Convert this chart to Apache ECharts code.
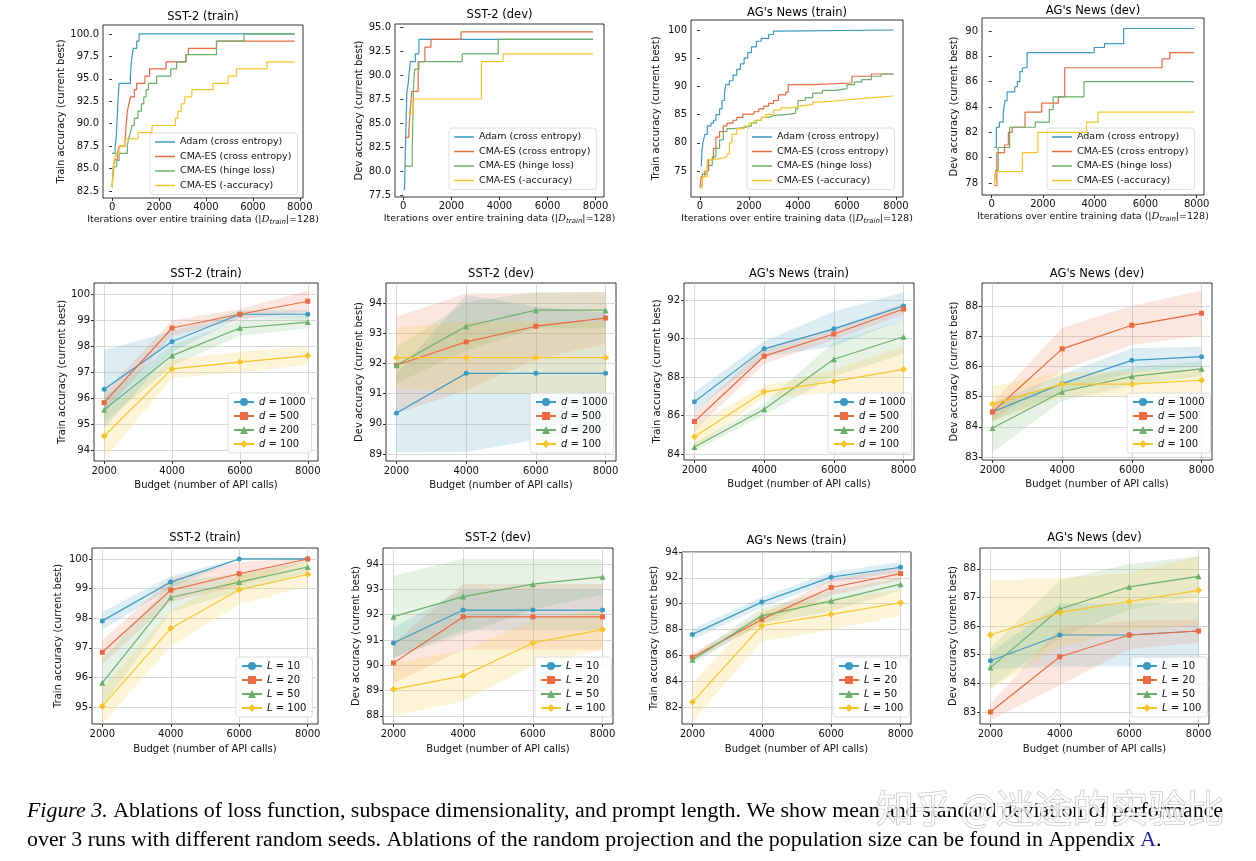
<!DOCTYPE html>
<html><head><meta charset="utf-8">
<script src="https://cdn.jsdelivr.net/npm/echarts@6/dist/echarts.min.js"></script>
<style>html,body{margin:0;padding:0;background:#fff}#c{width:1256px;height:861px}</style>
</head><body><div id="c"></div>
<script>
// ---------------- DATA ----------------
const lossNames = ['Adam (cross entropy)', 'CMA-ES (cross entropy)', 'CMA-ES (hinge loss)', 'CMA-ES (-accuracy)'];
const dNames = ['d = 1000', 'd = 500', 'd = 200', 'd = 100'];
const lNames = ['L = 10', 'L = 20', 'L = 50', 'L = 100'];
const budgets = [2000, 4000, 6000, 8000];

// Row 1: current-best curves [iteration, accuracy]
const sst2TrainAdam = [[0,86.7],[130,87.5],[170,88.3],[200,89.8],[230,91.4],[260,93.0],[300,94.5],[780,95.3],[820,96.9],[900,98.4],[1050,99.2],[1150,100],[7780,100]];
const sst2TrainCE = [[0,83.0],[50,85.2],[130,86.0],[220,86.7],[300,87.5],[560,88.3],[600,89.8],[650,91.4],[720,92.2],[780,93.0],[950,93.8],[1050,94.5],[1400,95.3],[1600,96.1],[2300,96.9],[3150,97.7],[3250,98.4],[4450,99.2],[7780,99.2]];
const sst2TrainHinge = [[0,83.0],[80,85.2],[200,85.9],[300,86.7],[650,87.5],[700,88.3],[780,89.0],[850,89.8],[950,90.6],[1100,91.4],[1250,92.2],[1350,93.0],[1450,93.8],[1550,94.5],[1900,95.3],[2500,96.1],[2750,96.9],[3150,97.7],[4450,99.2],[5620,100],[7780,100]];
const sst2TrainAcc = [[0,82.8],[50,85.2],[100,86.0],[150,86.7],[300,87.5],[560,88.3],[1100,89.0],[1700,89.8],[2700,90.6],[2800,91.4],[2950,92.2],[3100,93.0],[3400,93.8],[4300,94.5],[4950,95.3],[5300,96.1],[6600,96.9],[7780,96.9]];

const sst2DevAdam = [[50,78.0],[100,83.5],[150,88.3],[200,89.0],[250,90.4],[300,91.4],[500,92.2],[650,93.7],[7890,93.7]];
const sst2DevCE = [[100,83.5],[230,84.3],[280,86.0],[350,88.3],[620,91.4],[900,92.9],[1150,93.7],[2400,94.5],[7890,94.5]];
const sst2DevHinge = [[50,80.5],[370,82.0],[420,88.3],[470,90.6],[650,91.4],[2450,92.2],[3950,93.7],[7890,93.7]];
const sst2DevAcc = [[200,86.0],[400,87.5],[3250,91.4],[4150,92.2],[7890,92.2]];

const agTrainAdam = [[50,75.8],[80,78.5],[120,80],[200,81.5],[300,83],[450,83.5],[550,84],[650,85],[800,86],[900,87.5],[1000,89],[1050,90.3],[1200,91],[1350,92],[1500,93],[1650,94],[1800,95],[1950,96],[2100,97],[2300,98],[2500,98.5],[2800,99.2],[3000,99.8],[3250,100],[7900,100]];
const agTrainCE = [[0,72],[50,74],[200,75],[350,77],[550,79],[650,81],[800,82],[950,83],[1100,83.5],[1350,84],[1500,84.5],[1750,85.1],[2200,85.5],[2400,86],[2600,86.5],[2800,87],[3000,87.5],[3200,88.5],[3500,89],[3600,90.3],[4600,90.6],[6200,91.8],[7000,92.2],[7900,92.2]];
const agTrainHinge = [[0,72.5],[100,74.5],[300,76],[500,77.5],[650,79],[800,80.5],[950,82],[1100,82.5],[1400,82.7],[1800,83],[2100,83.5],[2300,84],[2500,84.5],[2800,84.8],[3000,85],[3500,85.2],[3900,86],[4000,87.5],[4300,88],[4600,88.8],[5000,89.3],[5500,89.6],[6000,90.3],[6300,90.8],[6600,91.2],[7000,91.8],[7400,92.2],[7900,92.2]];
const agTrainAcc = [[0,72],[100,74],[300,77],[500,77.2],[800,77.5],[1100,78],[1200,80],[1300,81.5],[1500,82.5],[1800,83],[2000,83.5],[2200,84],[2500,84.5],[2700,85],[3000,85.8],[3300,86.2],[3700,86.5],[4100,86.8],[4600,87.2],[5000,87.5],[5700,87.8],[6500,88.1],[7300,88.3],[7900,88.3]];

const agDevAdam = [[100,80.8],[180,82.4],[300,82.8],[450,83.6],[520,84.5],[600,85.2],[900,85.6],[1000,86.0],[1100,86.8],[1200,87.1],[1380,88.3],[4000,88.7],[4400,89.0],[5150,90.2],[7900,90.2]];
const agDevCE = [[100,77.8],[200,80.4],[500,81.0],[650,82.0],[800,82.4],[1300,83.6],[1950,84.3],[2600,84.8],[2850,87.1],[6650,87.8],[6950,88.3],[7900,88.3]];
const agDevHinge = [[100,78.0],[150,79.0],[250,80.8],[700,82.4],[1700,82.8],[2250,83.8],[2400,84.8],[3600,86.0],[7900,86.0]];
const agDevAcc = [[100,77.8],[150,78.9],[1200,80.4],[1800,82.0],[3700,82.8],[4150,83.6],[7900,83.6]];

// Row 2: subspace dimensionality (rows: d=1000, 500, 200, 100), mean and std per budget
const sst2TrainDMean = [[96.34,98.17,99.22,99.22],[95.82,98.69,99.22,99.72],[95.55,97.63,98.69,98.92],[94.54,97.12,97.38,97.63]];
const sst2TrainDStd  = [[1.5,0.4,0.15,0.15],[0.4,0.3,0.2,0.4],[0.5,0.4,0.3,0.25],[0.9,0.35,0.4,0.35]];
const sst2DevDMean = [[90.36,91.67,91.67,91.67],[91.94,92.71,93.23,93.5],[91.94,93.23,93.76,93.76],[92.19,92.19,92.19,92.19]];
const sst2DevDStd  = [[1.3,2.6,2.2,2.0],[1.6,1.6,1.1,0.85],[0.6,0.8,0.6,0.6],[1.0,1.2,1.2,1.2]];
const agTrainDMean = [[86.71,89.46,90.5,91.69],[85.69,89.08,90.23,91.53],[84.37,86.33,88.92,90.09],[84.9,87.23,87.77,88.4]];
const agTrainDStd  = [[0.5,0.4,0.9,0.7],[0.5,0.4,0.3,0.3],[0.2,0.3,0.9,0.9],[0.6,0.3,0.6,1.2]];
const agDevDMean = [[84.49,85.43,86.2,86.32],[84.49,86.58,87.36,87.76],[83.96,85.16,85.67,85.92],[84.75,85.41,85.41,85.54]];
const agDevDStd  = [[0.3,0.3,0.4,0.33],[0.3,0.7,0.65,0.75],[0.8,0.3,0.3,0.25],[0.6,0.4,0.4,0.4]];

// Row 3: prompt length (rows: L=10, 20, 50, 100)
const sst2TrainLMean = [[97.91,99.22,100,100],[96.85,98.95,99.5,100],[95.82,98.7,99.22,99.73],[95.03,97.66,98.96,99.48]];
const sst2TrainLStd  = [[0.3,0.2,0.02,0.02],[0.4,0.4,0.4,0.05],[0.8,0.5,0.3,0.2],[0.6,0.6,0.5,0.4]];
const sst2DevLMean = [[90.88,92.18,92.18,92.18],[90.09,91.91,91.91,91.91],[91.92,92.71,93.2,93.49],[89.05,89.58,90.88,91.41]];
const sst2DevLStd  = [[0.6,0.8,0.8,0.8],[0.8,1.3,1.3,1.3],[1.6,1.5,1.0,0.7],[1.05,1.0,0.9,0.8]];
const agTrainLMean = [[87.62,90.12,92.05,92.82],[85.85,88.78,91.25,92.33],[85.65,89.06,90.22,91.51],[82.38,88.29,89.17,90.07]];
const agTrainLStd  = [[0.4,0.4,0.4,0.4],[0.3,0.4,0.6,0.5],[0.3,0.6,0.8,0.5],[1.5,1.2,1.2,1.0]];
const agDevLMean = [[84.79,85.69,85.69,85.83],[83.0,84.93,85.69,85.83],[84.55,86.6,87.37,87.74],[85.69,86.48,86.86,87.25]];
const agDevLStd  = [[0.3,1.1,1.1,1.0],[0.3,1.0,0.5,0.4],[0.7,1.0,0.8,0.7],[1.9,1.2,1.0,1.2]];

// Tick values
const itersTicks = [0, 2000, 4000, 6000, 8000];
const budgetTicks = [2000, 4000, 6000, 8000];
const sst2TrainLossTicks = [82.5, 85, 87.5, 90, 92.5, 95, 97.5, 100];
const sst2DevLossTicks = [77.5, 80, 82.5, 85, 87.5, 90, 92.5, 95];
const agTrainLossTicks = [75, 80, 85, 90, 95, 100];
const agDevLossTicks = [78, 80, 82, 84, 86, 88, 90];
const sst2TrainDTicks = [94, 95, 96, 97, 98, 99, 100];
const sst2DevDTicks = [89, 90, 91, 92, 93, 94];
const agTrainDTicks = [84, 86, 88, 90, 92];
const agDevDTicks = [83, 84, 85, 86, 87, 88];
const sst2TrainLTicks = [95, 96, 97, 98, 99, 100];
const sst2DevLTicks = [88, 89, 90, 91, 92, 93, 94];
const agTrainLTicks = [82, 84, 86, 88, 90, 92, 94];
const agDevLTicks = [83, 84, 85, 86, 87, 88];

// ---------------- STYLE / LAYOUT ----------------
const FONT = 'DejaVu Sans';
const colors = ['#3b9ac4', '#ec6a3f', '#6bb06a', '#f7c52b'];
const bandColors = ['rgba(59,154,196,0.18)', 'rgba(236,106,63,0.16)', 'rgba(107,176,106,0.17)', 'rgba(247,197,43,0.18)'];
const markers = ['circle', 'rect', 'triangle', 'diamond'];
const markerSizes = [5, 5, 6, 7];
const trainName = 'Train accuracy (current best)';
const devName = 'Dev accuracy (current best)';
const itersName = '{n|Iterations over entire training data (|}{d|D}{s|train}{n||=128)}';
const budgetName = 'Budget (number of API calls)';

const panels = [
  {title:"SST-2 (train)", rect:[103,25,200,173], tOff:8, xr:[-387,8137], yr:[81.72,101.0], yt:sst2TrainLossTicks, dec:1, yName:trainName, yGap:37, leg:[150,133], kind:'step', lines:[sst2TrainAdam,sst2TrainCE,sst2TrainHinge,sst2TrainAcc], names:lossNames},
  {title:"SST-2 (dev)", rect:[395,24,209,173], tOff:9, xr:[-345,8350], yr:[77.29,95.31], yt:sst2DevLossTicks, dec:1, yName:devName, yGap:31, leg:[449,128], kind:'step', lines:[sst2DevAdam,sst2DevCE,sst2DevHinge,sst2DevAcc], names:lossNames},
  {title:"AG's News (train)", rect:[691,20,212,177], tOff:7, xr:[-367,8286], yr:[70.39,101.77], yt:agTrainLossTicks, dec:0, yName:trainName, yGap:30, leg:[747,128], kind:'step', lines:[agTrainAdam,agTrainCE,agTrainHinge,agTrainAcc], names:lossNames},
  {title:"AG's News (dev)", rect:[982,18,222,177], tOff:7, xr:[-379,8285], yr:[77.05,91.03], yt:agDevLossTicks, dec:0, yName:devName, yGap:23, leg:[1047,128], kind:'step', lines:[agDevAdam,agDevCE,agDevHinge,agDevAcc], names:lossNames},

  {title:"SST-2 (train)", rect:[94,283,224,178], tOff:9, xr:[1700,8300], yr:[93.58,100.42], yt:sst2TrainDTicks, dec:0, yName:trainName, yGap:27, leg:[228,393], kind:'band', mean:sst2TrainDMean, std:sst2TrainDStd, names:dNames},
  {title:"SST-2 (dev)", rect:[386,283,230,178], tOff:9, xr:[1700,8300], yr:[88.77,94.66], yt:sst2DevDTicks, dec:0, yName:devName, yGap:22, leg:[530,393], kind:'band', mean:sst2DevDMean, std:sst2DevDStd, names:dNames},
  {title:"AG's News (train)", rect:[684,283,230,177], tOff:9, xr:[1700,8300], yr:[83.69,92.88], yt:agTrainDTicks, dec:0, yName:trainName, yGap:22, leg:[828,393], kind:'band', mean:agTrainDMean, std:agTrainDStd, names:dNames},
  {title:"AG's News (dev)", rect:[982,283,230,177], tOff:9, xr:[1700,8300], yr:[82.9,88.76], yt:agDevDTicks, dec:0, yName:devName, yGap:23, leg:[1127,393], kind:'band', mean:agDevDMean, std:agDevDStd, names:dNames},

  {title:"SST-2 (train)", rect:[92,548,226,176], tOff:10, xr:[1700,8300], yr:[94.43,100.37], yt:sst2TrainLTicks, dec:0, yName:trainName, yGap:29, leg:[236,657], kind:'band', mean:sst2TrainLMean, std:sst2TrainLStd, names:lNames},
  {title:"SST-2 (dev)", rect:[383,548,230,176], tOff:10, xr:[1700,8300], yr:[87.68,94.63], yt:sst2DevLTicks, dec:0, yName:devName, yGap:22, leg:[535,657], kind:'band', mean:sst2DevLMean, std:sst2DevLStd, names:lNames},
  {title:"AG's News (train)", rect:[682,552,229,172], tOff:11, xr:[1700,8300], yr:[80.68,94.0], yt:agTrainLTicks, dec:0, yName:trainName, yGap:23, leg:[833,657], kind:'band', mean:agTrainLMean, std:agTrainLStd, names:lNames},
  {title:"AG's News (dev)", rect:[980,548,229,176], tOff:10, xr:[1700,8300], yr:[82.58,88.73], yt:agDevLTicks, dec:0, yName:devName, yGap:22, leg:[1131,657], kind:'band', mean:agDevLMean, std:agDevLStd, names:lNames}
];

// ---------------- BUILD ----------------
const grids = [], xAxes = [], yAxes = [], series = [], legends = [], graphics = [];
const txt = {fontFamily: FONT, color: '#111'};

function bandRenderer(fill) {
  return function (params, api) {
    if (params.dataIndexInside !== 0) return null;
    const n = params.dataInsideLength;
    const top = [], bot = [];
    for (let i = 0; i < n; i++) {
      const x = api.value(0, i);
      bot.push(api.coord([x, api.value(1, i)]));
      top.push(api.coord([x, api.value(2, i)]));
    }
    const pts = bot.concat(top.reverse());
    const cs = params.coordSys;
    return {type:'polygon', shape:{points:pts}, style:{fill:fill},
      clipPath:{type:'rect', shape:{x:cs.x, y:cs.y, width:cs.width, height:cs.height}}};
  };
}

panels.forEach((p, gi) => {
  const isStep = p.kind === 'step';
  grids.push({left:p.rect[0], top:p.rect[1], width:p.rect[2], height:p.rect[3], show:true, borderColor:'#000', borderWidth:0.8, backgroundColor:'rgba(0,0,0,0)', containLabel:false});
  xAxes.push({
    type:'value', gridIndex:gi, min:p.xr[0], max:p.xr[1],
    axisLine:{show:false},
    axisTick:{show:true, length:3, lineStyle:{color:'#000', width:0.8}, customValues: isStep ? itersTicks : budgetTicks},
    axisLabel:{customValues: isStep ? itersTicks : budgetTicks, margin: isStep ? 4 : 5, fontSize:10, ...txt, formatter: v => String(Math.round(v))},
    splitLine:{show:!isStep, lineStyle:{color:'#cfcfcf', width:0.8}},
    name: isStep ? itersName : budgetName, nameLocation:'middle', nameGap: isStep ? 15 : (gi < 8 ? 19 : 20),
    nameTextStyle: isStep ? {rich:{
      n:{fontSize:9.5, fontFamily:FONT, color:'#111', lineHeight:13},
      d:{fontSize:10, fontFamily:'DejaVu Serif', fontStyle:'italic', color:'#111', lineHeight:13},
      s:{fontSize:7, fontFamily:FONT, fontStyle:'italic', color:'#111', verticalAlign:'bottom', lineHeight:9}
    }} : {fontSize:10, ...txt}
  });
  yAxes.push({
    type:'value', gridIndex:gi, min:p.yr[0], max:p.yr[1],
    axisLine:{show:false},
    axisTick:{show:true, length:3, lineStyle:{color:'#000', width:0.8}, customValues:p.yt},
    axisLabel:{customValues:p.yt, margin:4, fontSize:10, ...txt, formatter: v => Number(v).toFixed(p.dec)},
    splitLine:{show:!isStep, lineStyle:{color:'#cfcfcf', width:0.8}},
    name:p.yName, nameLocation:'middle', nameGap:p.yGap, nameTextStyle:{fontSize:10, ...txt}
  });

  if (isStep) {
    p.lines.forEach((d, s) => {
      series.push({type:'line', name:p.names[s], xAxisIndex:gi, yAxisIndex:gi, data:d, step:'end',
        symbol:'none', lineStyle:{color:colors[s], width:1.2}, itemStyle:{color:colors[s]}, z:2 + s});
    });
  } else {
    p.mean.forEach((m, s) => {
      const sd = p.std[s];
      series.push({type:'custom', name:'_band', xAxisIndex:gi, yAxisIndex:gi, silent:true, z:1,
        data:budgets.map((b, k) => [b, m[k] - sd[k], m[k] + sd[k]]),
        encode:{x:0, y:[1, 2]},
        renderItem:bandRenderer(bandColors[s])});
    });
    p.mean.forEach((m, s) => {
      series.push({type:'line', name:p.names[s], xAxisIndex:gi, yAxisIndex:gi,
        data:budgets.map((b, k) => [b, m[k]]), symbol:markers[s], symbolSize:markerSizes[s], showSymbol:true,
        lineStyle:{color:colors[s], width:1.2}, itemStyle:{color:colors[s]}, z:3 + s});
    });
  }

  legends.push({
    data:p.names, left:p.leg[0], top:p.leg[1], orient:'vertical',
    icon: isStep ? 'rect' : undefined,
    itemWidth:20, itemHeight:isStep ? 1.5 : 10, itemGap: isStep ? 2.5 : 2,
    padding:[3, 6, 3, 5], backgroundColor:'rgba(255,255,255,0.8)',
    borderColor:'#d6d6d6', borderWidth:0.8, borderRadius:3,
    selectedMode:false,
    formatter: isStep ? (n => n) : (n => '{i|' + n.charAt(0) + '}' + n.slice(1)),
    textStyle:{fontSize:isStep ? 9.5 : 10, fontFamily:FONT, color:'#111', lineHeight:12,
      rich:{i:{fontStyle:'italic', fontSize:10, fontFamily:FONT, color:'#111'}}}
  });

  graphics.push({type:'text', x:p.rect[0] + p.rect[2] / 2, y:p.rect[1] - p.tOff,
    style:{text:p.title, align:'center', verticalAlign:'middle', fontSize:11.5, fontFamily:FONT, fill:'#000'}});
});

// Caption
const capRich = {
  i:{fontStyle:'italic', fontSize:21.9, fontFamily:'Liberation Serif', fill:'#000'},
  a:{fontSize:21.9, fontFamily:'Liberation Serif', fill:'#1a1aa6'}
};
graphics.push({type:'text', x:27, y:811, style:{
  text:'{i|Figure 3.} Ablations of loss function, subspace dimensionality, and prompt length. We show mean and standard deviation of performance',
  rich:capRich, fontSize:21.9, fontFamily:'Liberation Serif', fill:'#000', verticalAlign:'middle'}});
graphics.push({type:'text', x:27, y:840, style:{
  text:'over 3 runs with different random seeds. Ablations of the random projection and the population size can be found in Appendix {a|A}.',
  rich:capRich, fontSize:21.9, fontFamily:'Liberation Serif', fill:'#000', verticalAlign:'middle'}});
// Watermark overlay
graphics.push({type:'text', x:1050, y:808, z:100, style:{
  text:'知乎 @迷途的实验比', align:'center', verticalAlign:'middle',
  fontSize:38, fontFamily:'Noto Sans CJK SC', fill:'rgba(255,255,255,0.82)', stroke:'rgba(150,150,150,0.7)', lineWidth:1}});

const chart = echarts.init(document.getElementById('c'), null, {renderer:'canvas'});
chart.setOption({
  animation:false, backgroundColor:'#fff',
  grid:grids, xAxis:xAxes, yAxis:yAxes, series:series, legend:legends, graphic:graphics
});
</script>
</body></html>
